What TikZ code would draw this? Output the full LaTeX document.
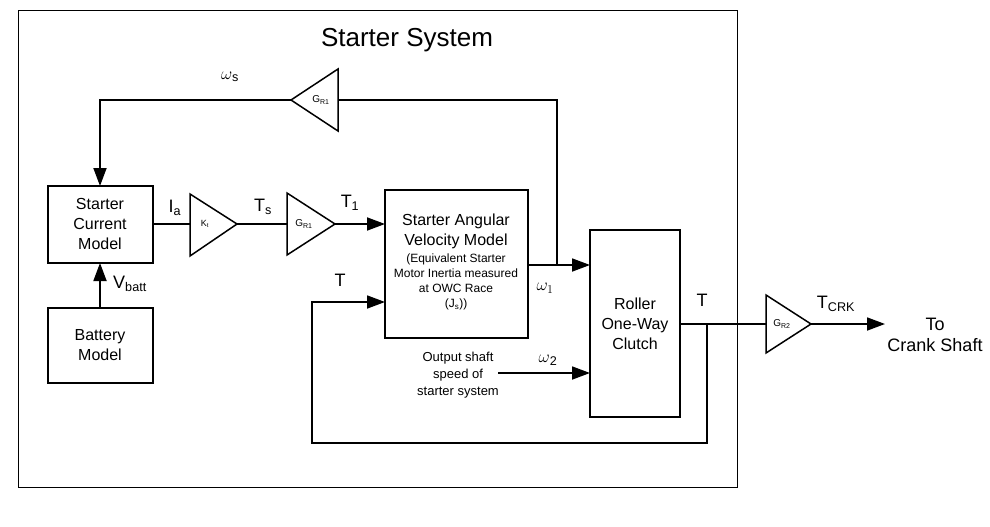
\documentclass[tikz,border=0pt]{standalone}
\usepackage{fontspec}
\setmainfont{Liberation Sans}
\usetikzlibrary{arrows.meta}
\begin{document}
\begin{tikzpicture}[x=1pt,y=-1pt,
  blk/.style={draw,line width=1.8pt,inner sep=0pt},
  wire/.style={line width=1.8pt},
  arr/.style={wire,-{Triangle[length=18pt,width=13pt]}},
  lbl/.style={font=\fontsize{18}{20}\selectfont,inner sep=0pt},
  txt/.style={font=\fontsize{16}{20}\selectfont,align=center,inner sep=0pt},
  tri/.style={draw,line width=1.5pt}]
\useasboundingbox (0,0) rectangle (990,527);
\draw[line width=0.8pt] (18,10) rectangle (737,487);
\node[font=\fontsize{26}{30}\selectfont] (title) at (407,40) {Starter System};
% blocks
\draw[blk] (48,186) rectangle (153,263);
\node[txt] (scm) at (100,224) {Starter\\Current\\Model};
\draw[blk] (48,308) rectangle (153,383);
\node[txt] (bm) at (100,345) {Battery\\Model};
\draw[blk] (385,190) rectangle (528,338);
\node[txt] (sav) at (456,262) {Starter Angular\\Velocity Model\\[-3pt]{\fontsize{12}{14}\selectfont(Equivalent  Starter}\\[-5pt]{\fontsize{12}{14}\selectfont Motor Inertia measured}\\[-5pt]{\fontsize{12}{14}\selectfont at OWC Race}\\[-5pt]{\fontsize{12}{14}\selectfont (J\textsubscript{s}))}};
\draw[blk] (590,230) rectangle (680,417);
\node[txt] (owc) at (635,324) {Roller\\One-Way\\Clutch};
% triangles
\draw[tri] (190,194) -- (237,224) -- (190,256) -- cycle;
\node[font=\fontsize{9}{10}\selectfont] (kt) at (205,224) {K\textsubscript{t}};
\draw[tri] (287,193) -- (335,224) -- (287,255) -- cycle;
\node[font=\fontsize{10}{11}\selectfont] (g1) at (304,224) {G\textsubscript{R1}};
\draw[tri] (338,69) -- (291,100) -- (338,131) -- cycle;
\node[font=\fontsize{10}{11}\selectfont] (g1b) at (321,100) {G\textsubscript{R1}};
\draw[tri] (766,295) -- (811,324) -- (766,353) -- cycle;
\node[font=\fontsize{10}{11}\selectfont] (g2) at (782,324) {G\textsubscript{R2}};
% wires
\draw[arr] (100,308) -- (100,263);
\draw[wire] (153,224) -- (190,224);
\draw[wire] (237,224) -- (287,224);
\draw[arr] (335,224) -- (385,224);
\draw[arr] (528,265) -- (590,265);
\draw[wire] (557,265) -- (557,100) -- (338,100);
\draw[arr] (291,100) -- (100,100) -- (100,186);
\draw[arr] (707,324) -- (707,443) -- (312,443) -- (312,302) -- (385,302);
\draw[wire] (680,324) -- (766,324);
\draw[arr] (811,324) -- (885,324);
\draw[arr] (498,373) -- (590,373);
% labels
\node[lbl] (la) at (175,208) {I\textsubscript{a}};
\node[lbl] (lv) at (130,284) {V\textsubscript{batt}};
\node[lbl] (lts) at (263,207) {T\textsubscript{s}};
\node[lbl] (lt1) at (350,203) {T\textsubscript{1}};
\node[lbl] (lws) at (230,77) {$\omega$\textsubscript{s}};
\node[lbl] (lt) at (340,280) {T};
\node[lbl] (lw1) at (545,288) {$\omega_1$};
\node[lbl] (lw2) at (548,360) {$\omega$\textsubscript{2}};
\node[lbl] (ltr) at (702,300) {T};
\node[lbl] (ltc) at (836,304) {T\textsubscript{CRK}};
\node[txt,font=\fontsize{18}{21}\selectfont] (crank) at (935,335) {To\\Crank Shaft};
\node[txt,font=\fontsize{13}{17}\selectfont] (osh) at (458,375) {Output shaft\\speed of\\starter system};
\end{tikzpicture}
\end{document}
